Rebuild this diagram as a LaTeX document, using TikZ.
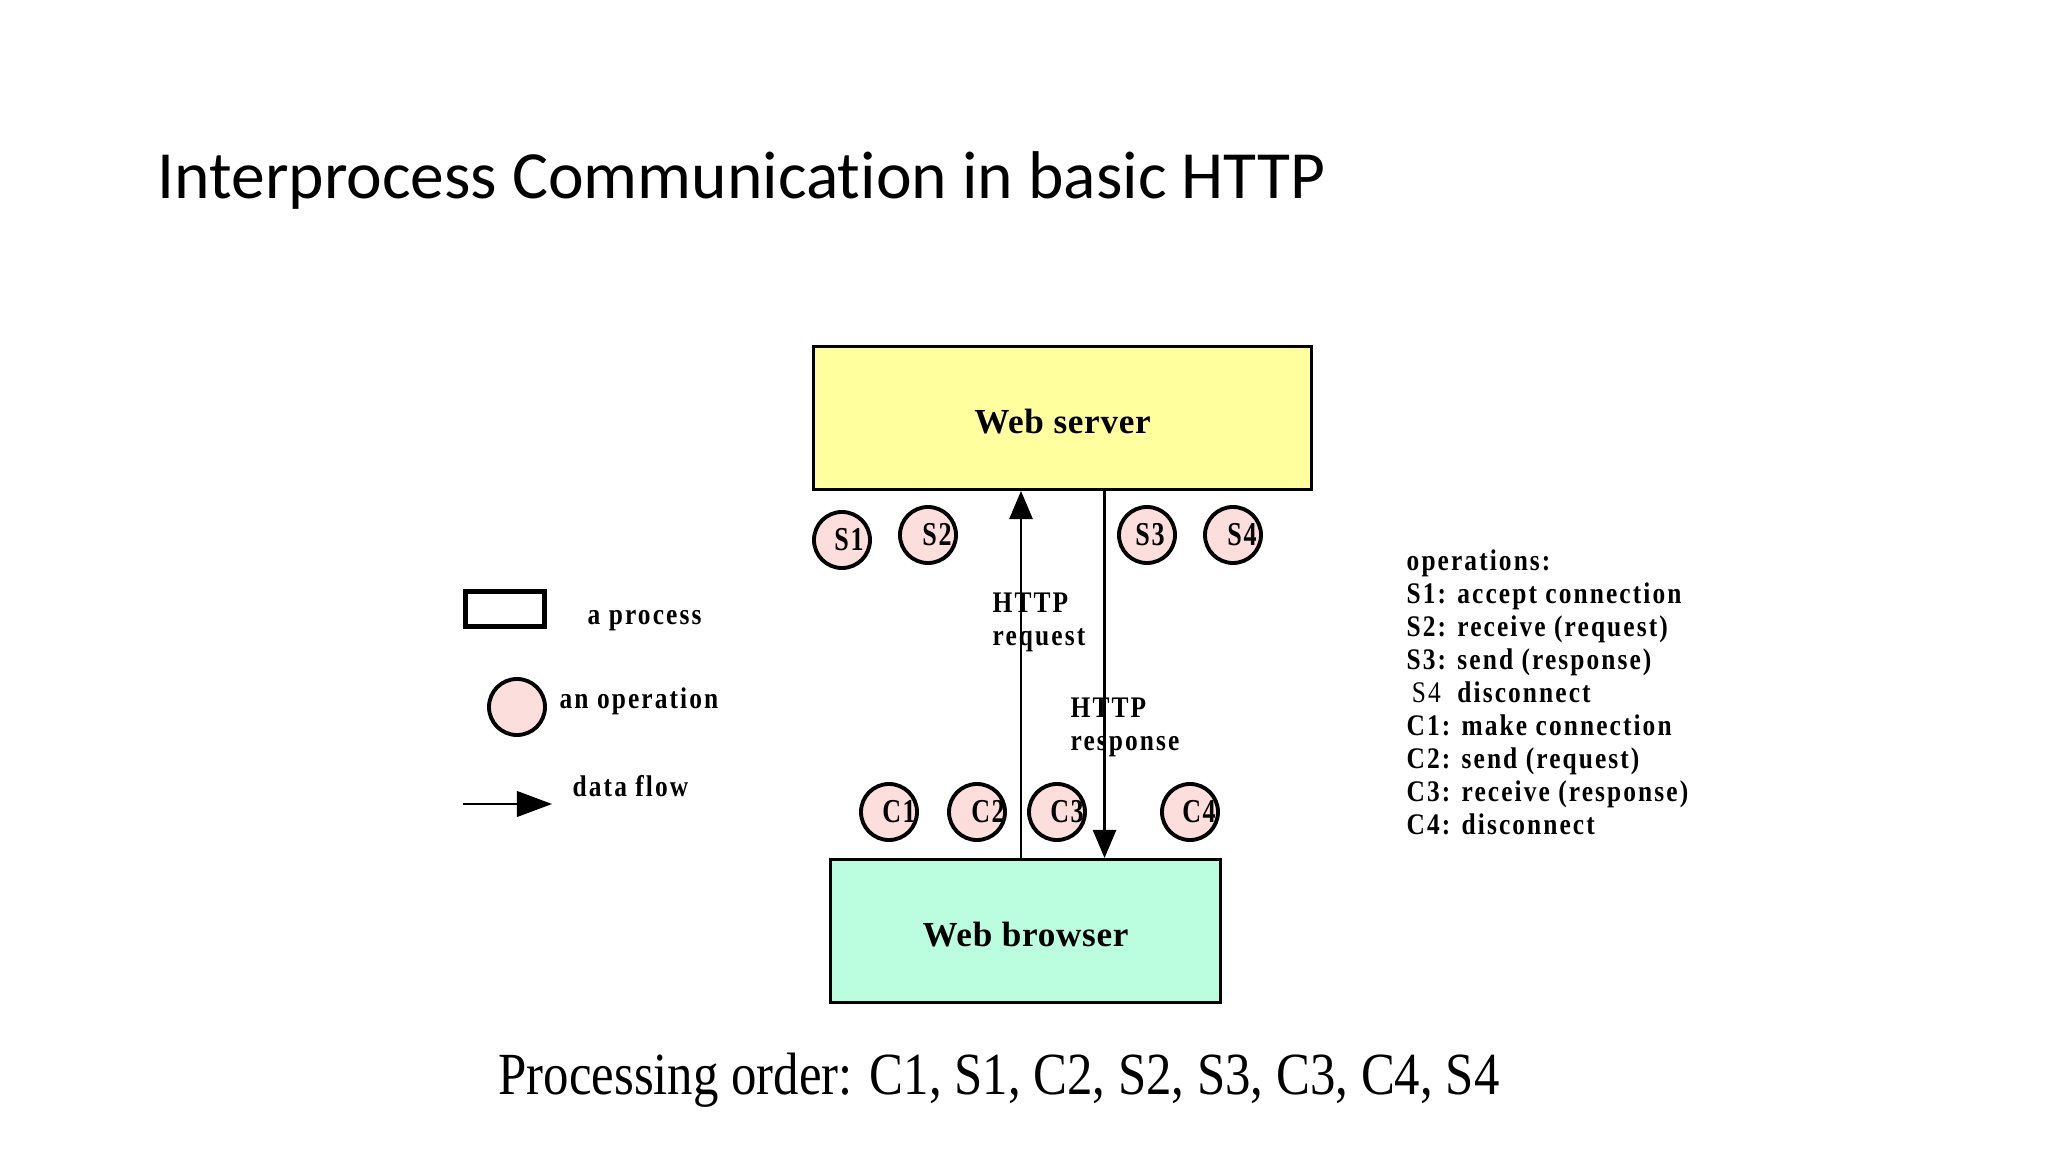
\documentclass[tikz,border=0pt]{standalone}
\usepackage{fontspec}
\setmainfont{Liberation Serif}
\newfontfamily\titlefont[Ligatures=NoCommon]{Carlito}
\newfontfamily\orderfont[FakeStretch=0.85]{Liberation Serif}
\newfontfamily\boxfont[LetterSpace=2]{Liberation Serif}
\newfontfamily\opfont[FakeStretch=0.85,LetterSpace=7]{Liberation Serif}
\newfontfamily\numfont[FakeStretch=0.78,LetterSpace=5]{Liberation Serif}
\usetikzlibrary{arrows.meta}
\definecolor{serverfill}{HTML}{FFFF9E}
\definecolor{browserfill}{HTML}{BBFDDF}
\definecolor{opfill}{HTML}{FCDEDD}
\begin{document}
\begin{tikzpicture}[x=0.01cm, y=-0.01cm,
    process/.style={draw, line width=0.8pt, inner sep=0pt, text depth=0pt,
                    font=\boxfont\bfseries\fontsize{10}{12}\selectfont},
    op/.style={circle, draw, line width=1.1pt, fill=opfill, minimum size=0.56cm, inner sep=0pt},
    opnum/.style={inner sep=0pt, font=\numfont\bfseries\fontsize{9.5}{11}\selectfont},
    note/.style={inner sep=0pt, align=left, font=\opfont\bfseries\fontsize{8.5}{9.4}\selectfont},
    flow/.style={-{Triangle[length=8pt,width=6.6pt]}, line width=0.6pt}]
  \fill[white] (0,0) rectangle (2048,1152);
  \useasboundingbox (0,0) rectangle (2048,1152);

  \node[font=\titlefont\fontsize{19.2}{23}\selectfont, anchor=base west, inner sep=0pt]
    (title) at (157,199) {Interprocess Communication in basic HTTP};

  % processes
  \node[process, fill=serverfill, minimum width=4.98cm, minimum height=1.43cm] (server) at (1062.5,418) {\raisebox{-2pt}{Web server}};
  \node[process, fill=browserfill, minimum width=3.90cm, minimum height=1.43cm] (browser) at (1025.5,931) {\raisebox{-2pt}{Web browser}};

  % server operations
  \node[op] (s1) at (842,540) {};
  \node[op] (s2) at (928,535) {};
  \node[op] (s3) at (1147,535) {};
  \node[op] (s4) at (1233,535) {};
  \node[opnum] (s1t) at ([xshift=0.07cm]s1) {S1};
  \node[opnum] (s2t) at ([xshift=0.09cm]s2) {S2};
  \node[opnum] (s3t) at ([xshift=0.03cm]s3) {S3};
  \node[opnum] (s4t) at ([xshift=0.09cm]s4) {S4};

  % client operations
  \node[op] (c1) at (889,812) {};
  \node[op] (c2) at (977,812) {};
  \node[op] (c3) at (1057,812) {};
  \node[op] (c4) at (1190,812) {};
  \node[opnum] (c1t) at ([xshift=0.10cm]c1) {C1};
  \node[opnum] (c2t) at ([xshift=0.11cm]c2) {C2};
  \node[opnum] (c3t) at ([xshift=0.10cm]c3) {C3};
  \node[opnum] (c4t) at ([xshift=0.09cm]c4) {C4};

  % data flow
  \coordinate (req) at ([xshift=-0.045cm]browser.north);
  \coordinate (resp) at ([xshift=0.42cm]server.south);
  \draw[flow] (req) -- (req |- server.south);
  \draw[flow] (resp) -- (resp |- browser.north);
  \node[note, anchor=north west] (reqtxt) at (992,592) {HTTP\\request};
  \node[note, anchor=north west] (resptxt) at (1070,697) {HTTP\\response};

  % legend
  \node[draw, line width=1.3pt, minimum width=0.795cm, minimum height=0.355cm, inner sep=0pt] (legproc) at (505,609) {};
  \node[note, anchor=base west] (legproctxt) at (587,624) {a process};
  \node[op] (legop) at (517,707) {};
  \node[note, anchor=base west] (legoptxt) at (559,708) {an operation};
  \coordinate (legfrom) at (463,804);
  \coordinate (legto) at (552,804);
  \draw[-{Triangle[length=10pt,width=7.3pt]}, line width=0.6pt] (legfrom) -- (legto);
  \node[note, anchor=base west] (legflowtxt) at (572,796) {data flow};

  % list of operations
  \node[note, anchor=north west] (oplist) at (1406,549) {operations:\\
    S1: accept connection\\
    S2: receive (request)\\
    S3: send (response)\\
    \rlap{\hspace{1.5pt}\mdseries S4}\hphantom{S1: }disconnect\\
    C1: make connection\\
    C2: send (request)\\
    C3: receive (response)\\
    C4: disconnect};

  \node[font=\orderfont\fontsize{17}{20}\selectfont, anchor=base, inner sep=0pt]
    (order) at (999,1094) {Processing order: C1, S1, C2, S2, S3, C3, C4, S4};
\end{tikzpicture}
\end{document}
